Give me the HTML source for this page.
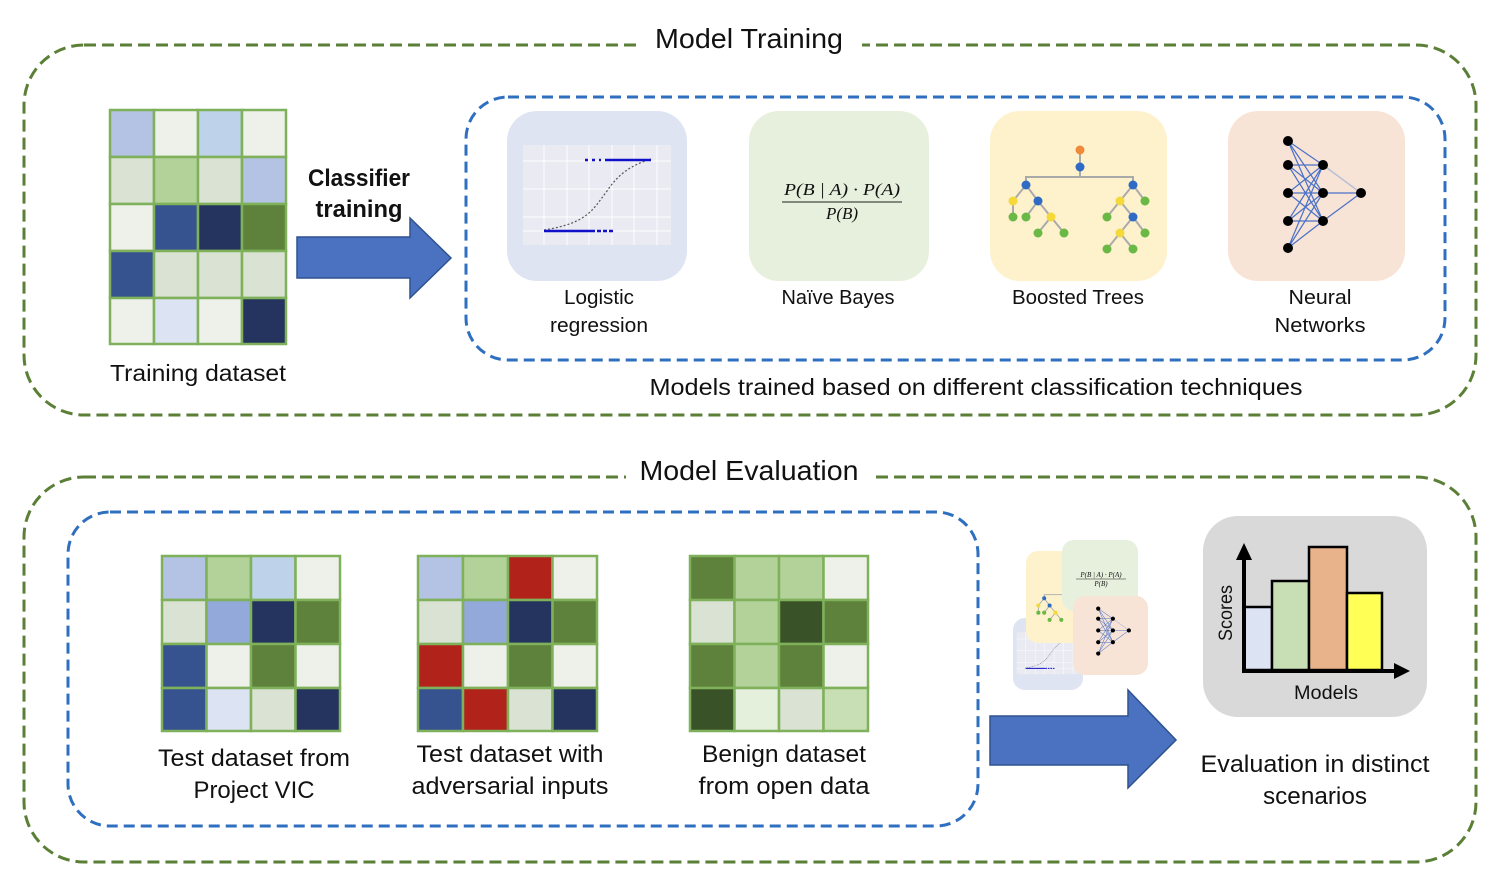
<!DOCTYPE html>
<html><head><meta charset="utf-8"><style>
html,body{margin:0;padding:0;background:#fff}
svg{display:block}
text{font-family:"Liberation Sans",sans-serif;fill:#111}
</style></head><body>
<svg width="1502" height="894" viewBox="0 0 1502 894" xmlns="http://www.w3.org/2000/svg">
<defs>
<g id="logplot">
  <rect x="16" y="34" width="148" height="100" fill="#eaeaf2"/>
  <g stroke="#fff" stroke-width="1">
    <line x1="16" y1="50" x2="164" y2="50"/><line x1="16" y1="78" x2="164" y2="78"/><line x1="16" y1="106" x2="164" y2="106"/><line x1="16" y1="120" x2="164" y2="120"/>
    <line x1="37" y1="34" x2="37" y2="134"/><line x1="60" y1="34" x2="60" y2="134"/><line x1="82" y1="34" x2="82" y2="134"/><line x1="105" y1="34" x2="105" y2="134"/><line x1="127" y1="34" x2="127" y2="134"/><line x1="150" y1="34" x2="150" y2="134"/>
  </g>
  <path d="M37 119 C 80 112, 85 100, 100 80 C 112 62, 125 54, 144 48" fill="none" stroke="#555" stroke-width="1.2" stroke-dasharray="2,2"/>
  <line x1="98" y1="49" x2="144" y2="49" stroke="#1010c8" stroke-width="2.5"/>
  <line x1="78" y1="49" x2="94" y2="49" stroke="#1010c8" stroke-width="2.5" stroke-dasharray="3,4"/>
  <line x1="37" y1="120" x2="84" y2="120" stroke="#1010c8" stroke-width="2.5"/>
  <line x1="84" y1="120" x2="106" y2="120" stroke="#1010c8" stroke-width="2.5" stroke-dasharray="4,2"/>
</g>
<g id="tree">
  <g stroke="#aaa" stroke-width="2" fill="none">
    <path d="M90 39 V66 M36 74 V66 H143 V74"/>
    <path d="M36 74 L23 90 V106 M36 74 L48 90 L36 106 M48 90 L61 106 L48 122 M61 106 L74 122"/>
    <path d="M143 74 L130 90 L117 106 M143 74 L155 90 M130 90 L143 106 L130 122 L117 138 M143 106 L155 122 M130 122 L143 138"/>
  </g>
  <circle cx="90" cy="39" r="4.5" fill="#ee8a3c"/><circle cx="90" cy="56" r="4.5" fill="#2f6bc4"/>
  <circle cx="36" cy="74" r="4.5" fill="#2f6bc4"/><circle cx="23" cy="90" r="4.5" fill="#f5d93a"/><circle cx="48" cy="90" r="4.5" fill="#2f6bc4"/>
  <circle cx="23" cy="106" r="4.5" fill="#6ab845"/><circle cx="36" cy="106" r="4.5" fill="#6ab845"/><circle cx="61" cy="106" r="4.5" fill="#f5d93a"/>
  <circle cx="48" cy="122" r="4.5" fill="#6ab845"/><circle cx="74" cy="122" r="4.5" fill="#6ab845"/>
  <circle cx="143" cy="74" r="4.5" fill="#2f6bc4"/><circle cx="130" cy="90" r="4.5" fill="#f5d93a"/><circle cx="155" cy="90" r="4.5" fill="#6ab845"/>
  <circle cx="117" cy="106" r="4.5" fill="#6ab845"/><circle cx="143" cy="106" r="4.5" fill="#2f6bc4"/>
  <circle cx="130" cy="122" r="4.5" fill="#f5d93a"/><circle cx="155" cy="122" r="4.5" fill="#6ab845"/>
  <circle cx="117" cy="138" r="4.5" fill="#6ab845"/><circle cx="143" cy="138" r="4.5" fill="#6ab845"/>
</g>
<g id="nn">
  <g stroke="#4a72c8" stroke-width="1.2">
    <path d="M60 30 L95 54 M60 30 L95 82 M60 30 L95 110 M60 54 L95 54 M60 54 L95 82 M60 54 L95 110 M60 82 L95 54 M60 82 L95 82 M60 82 L95 110 M60 110 L95 54 M60 110 L95 82 M60 110 L95 110 M60 137 L95 54 M60 137 L95 82 M60 137 L95 110 M95 82 L133 82 M95 110 L133 82"/>
  </g>
  <line x1="95" y1="54" x2="133" y2="82" stroke="#b8c0d8" stroke-width="1.5"/>
  <g fill="#000"><circle cx="60" cy="30" r="5"/><circle cx="60" cy="54" r="5"/><circle cx="60" cy="82" r="5"/><circle cx="60" cy="110" r="5"/><circle cx="60" cy="137" r="5"/>
  <circle cx="95" cy="54" r="5"/><circle cx="95" cy="82" r="5"/><circle cx="95" cy="110" r="5"/><circle cx="133" cy="82" r="5"/></g>
</g>
</defs>

<rect x="24" y="45" width="1452" height="370" rx="60" fill="none" stroke="#5b7f36" stroke-width="3" stroke-dasharray="12,6"/>
<rect x="640" y="30" width="222" height="30" fill="#fff"/>
<text x="749" y="48" font-size="28" text-anchor="middle" textLength="188" lengthAdjust="spacingAndGlyphs">Model Training</text>
<rect x="24" y="477" width="1452" height="385" rx="60" fill="none" stroke="#5b7f36" stroke-width="3" stroke-dasharray="12,6"/>
<rect x="626" y="462" width="250" height="30" fill="#fff"/>
<text x="749" y="480" font-size="28" text-anchor="middle" textLength="219" lengthAdjust="spacingAndGlyphs">Model Evaluation</text>

<rect x="466" y="97" width="979" height="263" rx="42" fill="none" stroke="#2e6fc0" stroke-width="3" stroke-dasharray="11,6"/>
<rect x="68" y="512" width="910" height="314" rx="42" fill="none" stroke="#2e6fc0" stroke-width="3" stroke-dasharray="11,6"/>

<g stroke="#7fb05a" stroke-width="2.5">
<rect x="110" y="110" width="44" height="47" fill="#b4c3e3"/><rect x="154" y="110" width="44" height="47" fill="#edf1ea"/><rect x="198" y="110" width="44" height="47" fill="#bed3ea"/><rect x="242" y="110" width="44" height="47" fill="#edf1ea"/>
<rect x="110" y="157" width="44" height="47" fill="#d9e2d3"/><rect x="154" y="157" width="44" height="47" fill="#b3d29a"/><rect x="198" y="157" width="44" height="47" fill="#d9e2d3"/><rect x="242" y="157" width="44" height="47" fill="#b4c3e3"/>
<rect x="110" y="204" width="44" height="47" fill="#edf1ea"/><rect x="154" y="204" width="44" height="47" fill="#36528f"/><rect x="198" y="204" width="44" height="47" fill="#25345e"/><rect x="242" y="204" width="44" height="47" fill="#5e813b"/>
<rect x="110" y="251" width="44" height="47" fill="#36528f"/><rect x="154" y="251" width="44" height="47" fill="#d9e2d3"/><rect x="198" y="251" width="44" height="47" fill="#d9e2d3"/><rect x="242" y="251" width="44" height="47" fill="#d9e2d3"/>
<rect x="110" y="298" width="44" height="46" fill="#edf1ea"/><rect x="154" y="298" width="44" height="46" fill="#dce3f3"/><rect x="198" y="298" width="44" height="46" fill="#edf1ea"/><rect x="242" y="298" width="44" height="46" fill="#25345e"/>
</g>
<text x="198" y="381" font-size="23" text-anchor="middle" textLength="176" lengthAdjust="spacingAndGlyphs">Training dataset</text>

<text x="359" y="186" font-size="24" font-weight="bold" text-anchor="middle" textLength="102" lengthAdjust="spacingAndGlyphs">Classifier</text>
<text x="359" y="217" font-size="24" font-weight="bold" text-anchor="middle" textLength="87" lengthAdjust="spacingAndGlyphs">training</text>
<path d="M297 237 H410 V218 L451 258 L410 298 V278 H297 Z" fill="#4a72c0" stroke="#2f528f" stroke-width="1.5"/>

<rect x="507" y="111" width="180" height="170" rx="30" fill="#dee4f2"/>
<use href="#logplot" transform="translate(507,111)"/>
<rect x="749" y="111" width="180" height="170" rx="30" fill="#e6f0dc"/>
<text x="842" y="195" font-size="17" font-style="italic" text-anchor="middle" textLength="116" lengthAdjust="spacingAndGlyphs" style="font-family:'Liberation Serif',serif">P(B | A) · P(A)</text>
<line x1="782" y1="202" x2="902" y2="202" stroke="#222" stroke-width="1"/>
<text x="842" y="219" font-size="17" font-style="italic" text-anchor="middle" style="font-family:'Liberation Serif',serif">P(B)</text>
<rect x="990" y="111" width="177" height="170" rx="30" fill="#fdf2cc"/>
<use href="#tree" transform="translate(990,111)"/>
<rect x="1228" y="111" width="177" height="170" rx="30" fill="#f8e4d6"/>
<use href="#nn" transform="translate(1228,111)"/>

<text x="599" y="304" font-size="20" text-anchor="middle" textLength="70" lengthAdjust="spacingAndGlyphs">Logistic</text>
<text x="599" y="332" font-size="20" text-anchor="middle" textLength="98" lengthAdjust="spacingAndGlyphs">regression</text>
<text x="838" y="304" font-size="20" text-anchor="middle" textLength="113" lengthAdjust="spacingAndGlyphs">Naïve Bayes</text>
<text x="1078" y="304" font-size="20" text-anchor="middle" textLength="132" lengthAdjust="spacingAndGlyphs">Boosted Trees</text>
<text x="1320" y="304" font-size="20" text-anchor="middle" textLength="63" lengthAdjust="spacingAndGlyphs">Neural</text>
<text x="1320" y="332" font-size="20" text-anchor="middle" textLength="91" lengthAdjust="spacingAndGlyphs">Networks</text>
<text x="976" y="395" font-size="23" text-anchor="middle" textLength="653" lengthAdjust="spacingAndGlyphs">Models trained based on different classification techniques</text>

<g stroke="#7fb05a" stroke-width="2.5">
<rect x="162" y="556" width="44.5" height="44" fill="#b4c3e3"/><rect x="206.5" y="556" width="44.5" height="44" fill="#b3d29a"/><rect x="251" y="556" width="44.5" height="44" fill="#bed3ea"/><rect x="295.5" y="556" width="44.5" height="44" fill="#edf1ea"/>
<rect x="162" y="600" width="44.5" height="44" fill="#d9e2d3"/><rect x="206.5" y="600" width="44.5" height="44" fill="#93a9da"/><rect x="251" y="600" width="44.5" height="44" fill="#25345e"/><rect x="295.5" y="600" width="44.5" height="44" fill="#5e813b"/>
<rect x="162" y="644" width="44.5" height="44" fill="#36528f"/><rect x="206.5" y="644" width="44.5" height="44" fill="#edf1ea"/><rect x="251" y="644" width="44.5" height="44" fill="#5e813b"/><rect x="295.5" y="644" width="44.5" height="44" fill="#edf1ea"/>
<rect x="162" y="688" width="44.5" height="43" fill="#36528f"/><rect x="206.5" y="688" width="44.5" height="43" fill="#dce3f3"/><rect x="251" y="688" width="44.5" height="43" fill="#d9e2d3"/><rect x="295.5" y="688" width="44.5" height="43" fill="#25345e"/>

<rect x="418" y="556" width="45" height="44" fill="#b4c3e3"/><rect x="463" y="556" width="45" height="44" fill="#b3d29a"/><rect x="508" y="556" width="44.5" height="44" fill="#b1221a"/><rect x="552.5" y="556" width="44.5" height="44" fill="#edf1ea"/>
<rect x="418" y="600" width="45" height="44" fill="#d9e2d3"/><rect x="463" y="600" width="45" height="44" fill="#93a9da"/><rect x="508" y="600" width="44.5" height="44" fill="#25345e"/><rect x="552.5" y="600" width="44.5" height="44" fill="#5e813b"/>
<rect x="418" y="644" width="45" height="44" fill="#b1221a"/><rect x="463" y="644" width="45" height="44" fill="#edf1ea"/><rect x="508" y="644" width="44.5" height="44" fill="#5e813b"/><rect x="552.5" y="644" width="44.5" height="44" fill="#edf1ea"/>
<rect x="418" y="688" width="45" height="43" fill="#36528f"/><rect x="463" y="688" width="45" height="43" fill="#b1221a"/><rect x="508" y="688" width="44.5" height="43" fill="#d9e2d3"/><rect x="552.5" y="688" width="44.5" height="43" fill="#25345e"/>

<rect x="690" y="556" width="44.5" height="44" fill="#5e813b"/><rect x="734.5" y="556" width="44.5" height="44" fill="#b3d29a"/><rect x="779" y="556" width="44.5" height="44" fill="#b3d29a"/><rect x="823.5" y="556" width="44.5" height="44" fill="#edf1ea"/>
<rect x="690" y="600" width="44.5" height="44" fill="#d9e2d3"/><rect x="734.5" y="600" width="44.5" height="44" fill="#b3d29a"/><rect x="779" y="600" width="44.5" height="44" fill="#3a5228"/><rect x="823.5" y="600" width="44.5" height="44" fill="#5e813b"/>
<rect x="690" y="644" width="44.5" height="44" fill="#5e813b"/><rect x="734.5" y="644" width="44.5" height="44" fill="#b3d29a"/><rect x="779" y="644" width="44.5" height="44" fill="#5e813b"/><rect x="823.5" y="644" width="44.5" height="44" fill="#edf1ea"/>
<rect x="690" y="688" width="44.5" height="43" fill="#3a5228"/><rect x="734.5" y="688" width="44.5" height="43" fill="#e4efdc"/><rect x="779" y="688" width="44.5" height="43" fill="#d9e2d3"/><rect x="823.5" y="688" width="44.5" height="43" fill="#c8dfb5"/>
</g>
<text x="254" y="766" font-size="24" text-anchor="middle" textLength="192" lengthAdjust="spacingAndGlyphs">Test dataset from</text>
<text x="254" y="798" font-size="24" text-anchor="middle" textLength="121" lengthAdjust="spacingAndGlyphs">Project VIC</text>
<text x="510" y="762" font-size="24" text-anchor="middle" textLength="187" lengthAdjust="spacingAndGlyphs">Test dataset with</text>
<text x="510" y="794" font-size="24" text-anchor="middle" textLength="197" lengthAdjust="spacingAndGlyphs">adversarial inputs</text>
<text x="784" y="762" font-size="24" text-anchor="middle" textLength="164" lengthAdjust="spacingAndGlyphs">Benign dataset</text>
<text x="784" y="794" font-size="24" text-anchor="middle" textLength="171" lengthAdjust="spacingAndGlyphs">from open data</text>

<rect x="1013" y="618" width="70" height="72" rx="12" fill="#dee4f2"/>
<use href="#logplot" transform="translate(1010,618) scale(0.42)"/>
<rect x="1026" y="551" width="74" height="92" rx="12" fill="#fdf2cc"/>
<use href="#tree" transform="translate(1028,565) scale(0.45)"/>
<rect x="1062" y="540" width="76" height="71" rx="12" fill="#e6f0dc"/>
<text x="1101" y="577" font-size="7" font-style="italic" text-anchor="middle" style="font-family:'Liberation Serif',serif">P(B | A) · P(A)</text>
<line x1="1076" y1="579" x2="1126" y2="579" stroke="#222" stroke-width="0.6"/>
<text x="1101" y="586" font-size="7" font-style="italic" text-anchor="middle" style="font-family:'Liberation Serif',serif">P(B)</text>
<rect x="1073" y="596" width="75" height="79" rx="12" fill="#f8e4d6"/>
<use href="#nn" transform="translate(1073,596) scale(0.42)"/>

<path d="M990 716 H1128 V690 L1176 740 L1128 788 V765 H990 Z" fill="#4a72c0" stroke="#2f528f" stroke-width="1.5"/>

<rect x="1203" y="516" width="224" height="201" rx="35" fill="#d9d9d9"/>
<g stroke="#000" stroke-width="2.5">
<rect x="1244" y="607" width="28" height="63" fill="#dce3f3"/>
<rect x="1272" y="581" width="37" height="89" fill="#c8dfb5"/>
<rect x="1309" y="547" width="38" height="123" fill="#e8b28a"/>
<rect x="1347" y="593" width="35" height="77" fill="#ffff55"/>
</g>
<line x1="1244" y1="672" x2="1244" y2="558" stroke="#000" stroke-width="4"/>
<path d="M1236 560 L1244 543 L1252 560 Z" fill="#000"/>
<line x1="1242" y1="671" x2="1396" y2="671" stroke="#000" stroke-width="4"/>
<path d="M1394 663 L1410 671 L1394 679 Z" fill="#000"/>
<text x="1326" y="699" font-size="19" text-anchor="middle" textLength="64" lengthAdjust="spacingAndGlyphs">Models</text>
<text transform="translate(1232,613) rotate(-90)" font-size="19" text-anchor="middle" textLength="56" lengthAdjust="spacingAndGlyphs">Scores</text>
<text x="1315" y="772" font-size="24" text-anchor="middle" textLength="229" lengthAdjust="spacingAndGlyphs">Evaluation in distinct</text>
<text x="1315" y="804" font-size="24" text-anchor="middle" textLength="104" lengthAdjust="spacingAndGlyphs">scenarios</text>
</svg>
</body></html>
